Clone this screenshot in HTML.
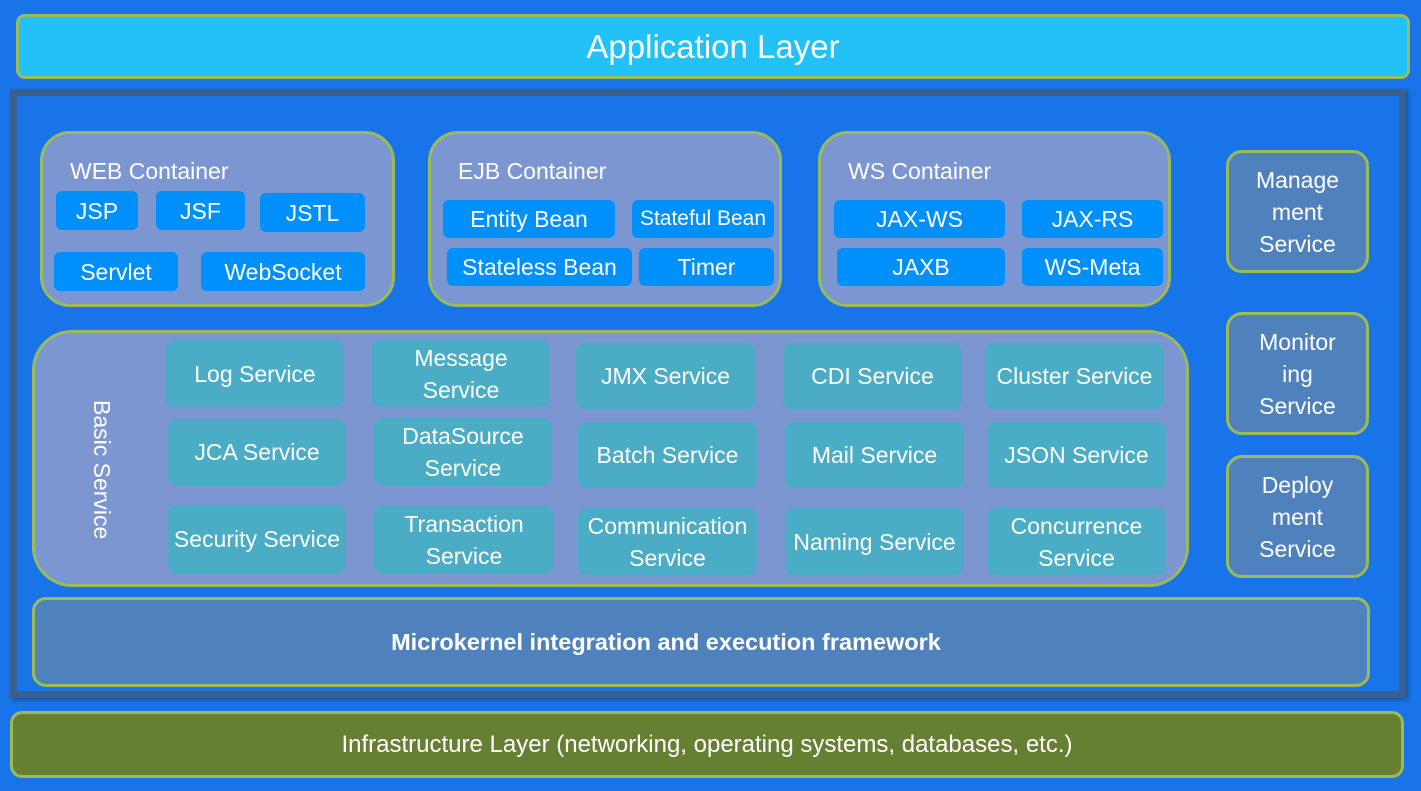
<!DOCTYPE html>
<html><head><meta charset="utf-8"><style>
*{box-sizing:border-box;margin:0;padding:0}
body{width:1421px;height:791px;background:#1874e8;position:relative;overflow:hidden;font-family:"Liberation Sans","DejaVu Sans",sans-serif;color:#fff}
.b{position:absolute;display:flex;align-items:center;justify-content:center;text-align:center;line-height:32px;white-space:nowrap}
.g{border:3px solid #9bbb59}
.c{position:absolute;background:#7b96d0;border:3px solid #9bbb59;border-radius:30px}
.i{background:#0090fc;border-radius:6px;font-size:23px}
.s{background:#4bacc6;border-radius:9px;font-size:23px}
.r{background:#4f81bd;border-radius:16px;font-size:23px}
.t{position:absolute;font-size:23px}
</style></head><body>
<div class="b g" style="left:16px;top:14px;width:1394px;height:65px;background:#22c1f8;border-radius:9px;font-size:33px">Application Layer</div>
<div style="position:absolute;left:10px;top:89px;width:1396px;height:609px;border:7px solid #3a5f8f;box-shadow:2px 2px 4px rgba(0,0,0,.3)"></div>

<div class="c" style="left:40px;top:131px;width:355px;height:176px"></div>
<div class="t" style="left:70px;top:158px">WEB Container</div>
<div class="b i" style="left:56px;top:191px;width:82px;height:39px">JSP</div>
<div class="b i" style="left:156px;top:191px;width:89px;height:39px">JSF</div>
<div class="b i" style="left:260px;top:193px;width:105px;height:39px">JSTL</div>
<div class="b i" style="left:54px;top:252px;width:124px;height:39px">Servlet</div>
<div class="b i" style="left:201px;top:252px;width:164px;height:39px">WebSocket</div>

<div class="c" style="left:428px;top:131px;width:354px;height:176px"></div>
<div class="t" style="left:458px;top:158px">EJB Container</div>
<div class="b i" style="left:443px;top:200px;width:172px;height:38px">Entity Bean</div>
<div class="b i" style="left:632px;top:200px;width:142px;height:38px;font-size:21px">Stateful Bean</div>
<div class="b i" style="left:447px;top:248px;width:185px;height:38px">Stateless Bean</div>
<div class="b i" style="left:639px;top:248px;width:135px;height:38px">Timer</div>

<div class="c" style="left:818px;top:131px;width:353px;height:176px"></div>
<div class="t" style="left:848px;top:158px">WS Container</div>
<div class="b i" style="left:834px;top:200px;width:171px;height:38px">JAX-WS</div>
<div class="b i" style="left:1022px;top:200px;width:141px;height:38px">JAX-RS</div>
<div class="b i" style="left:837px;top:248px;width:168px;height:38px">JAXB</div>
<div class="b i" style="left:1022px;top:248px;width:141px;height:38px">WS-Meta</div>

<div class="c" style="left:32px;top:330px;width:1157px;height:257px;border-radius:40px"></div>
<div style="position:absolute;left:87px;top:398px;width:30px;height:144px;writing-mode:vertical-rl;font-size:23px;line-height:30px;text-align:center;white-space:nowrap">Basic Service</div>

<div class="b s" style="left:166px;top:340px;width:178px;height:67px">Log Service</div>
<div class="b s" style="left:168px;top:419px;width:178px;height:66px">JCA Service</div>
<div class="b s" style="left:168px;top:505px;width:178px;height:68px">Security Service</div>
<div class="b s" style="left:372px;top:340px;width:178px;height:67px">Message<br>Service</div>
<div class="b s" style="left:374px;top:418px;width:178px;height:67px">DataSource<br>Service</div>
<div class="b s" style="left:374px;top:506px;width:180px;height:67px">Transaction<br>Service</div>
<div class="b s" style="left:576px;top:343px;width:179px;height:66px">JMX Service</div>
<div class="b s" style="left:578px;top:422px;width:179px;height:66px">Batch Service</div>
<div class="b s" style="left:578px;top:508px;width:179px;height:67px">Communication<br>Service</div>
<div class="b s" style="left:783px;top:343px;width:179px;height:66px">CDI Service</div>
<div class="b s" style="left:785px;top:422px;width:179px;height:66px">Mail Service</div>
<div class="b s" style="left:785px;top:508px;width:179px;height:67px">Naming Service</div>
<div class="b s" style="left:985px;top:343px;width:179px;height:66px">Cluster Service</div>
<div class="b s" style="left:987px;top:422px;width:179px;height:66px">JSON Service</div>
<div class="b s" style="left:987px;top:508px;width:179px;height:67px">Concurrence<br>Service</div>

<div class="b r g" style="left:1226px;top:150px;width:143px;height:123px">Manage<br>ment<br>Service</div>
<div class="b r g" style="left:1226px;top:312px;width:143px;height:123px">Monitor<br>ing<br>Service</div>
<div class="b r g" style="left:1226px;top:455px;width:143px;height:123px">Deploy<br>ment<br>Service</div>

<div class="b r g" style="left:32px;top:597px;width:1338px;height:90px;border-radius:14px;font-size:23.5px;font-weight:bold;padding-right:70px">Microkernel integration and execution framework</div>
<div class="b g" style="left:10px;top:711px;width:1394px;height:67px;background:#677f33;border-radius:12px;font-size:24px">Infrastructure Layer (networking, operating systems, databases, etc.)</div>
</body></html>
